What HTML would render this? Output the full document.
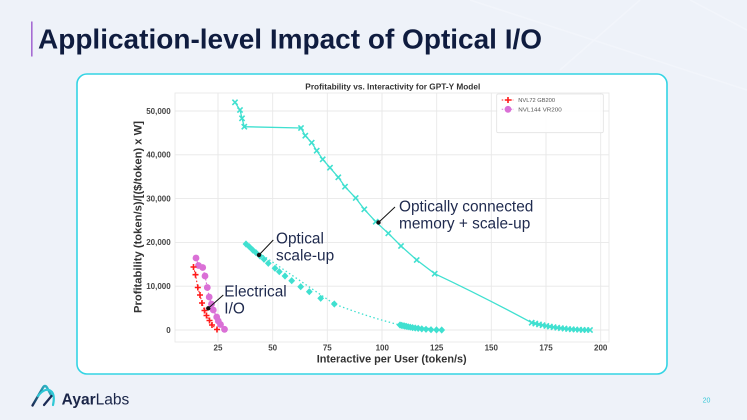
<!DOCTYPE html>
<html><head><meta charset="utf-8"><style>
html,body{margin:0;padding:0;}
body{width:747px;height:420px;overflow:hidden;background:#eef2f9;font-family:"Liberation Sans",Arial,sans-serif;}
svg{position:absolute;left:0;top:0;}
</style></head><body>
<svg width="747" height="420" viewBox="0 0 747 420" xmlns="http://www.w3.org/2000/svg" font-family="Liberation Sans, Arial, sans-serif">
<defs>
<path id="mx" d="M-2.6,-2.6L2.6,2.6M-2.6,2.6L2.6,-2.6" stroke="#40e0d0" stroke-width="1.6" fill="none"/>
<path id="md" d="M0,-3.6L3.4,0L0,3.6L-3.4,0Z" fill="#40e0d0"/>
<path id="mp" d="M-3,0H3M0,-3V3" stroke="#ff1a1a" stroke-width="1.6" fill="none"/>
<circle id="mc" r="3.4" fill="#da70d6"/>
<linearGradient id="lg" x1="0" y1="1" x2="1" y2="0">
<stop offset="0" stop-color="#1b2b55"/><stop offset="1" stop-color="#2ec8d6"/>
</linearGradient>
</defs>
<!-- faint background lines -->
<g stroke="#f4f7fc" stroke-width="1.5" opacity="0.7">
<line x1="470" y1="0" x2="747" y2="90"/>
<line x1="640" y1="0" x2="560" y2="70"/>
<line x1="690" y1="0" x2="747" y2="30"/>
</g>
<!-- title -->
<rect x="31" y="21.5" width="1.6" height="35" fill="#a66cd3"/>
<text x="38" y="48.3" font-size="28" font-weight="bold" fill="#0f1c3f">Application-level Impact of Optical I/O</text>
<!-- chart box -->
<rect x="77" y="74" width="590" height="300" rx="10" ry="10" fill="#ffffff" stroke="#33d4e4" stroke-width="1.6"/>
<!-- plot area frame -->
<rect x="175" y="93" width="434" height="249" fill="#ffffff" stroke="#e6e6e6" stroke-width="0.8"/>
<g stroke="#e8e8e8" stroke-width="0.9">
<line x1="218" y1="93" x2="218" y2="342"/>
<line x1="272.7" y1="93" x2="272.7" y2="342"/>
<line x1="327.3" y1="93" x2="327.3" y2="342"/>
<line x1="382" y1="93" x2="382" y2="342"/>
<line x1="436.7" y1="93" x2="436.7" y2="342"/>
<line x1="491.3" y1="93" x2="491.3" y2="342"/>
<line x1="546" y1="93" x2="546" y2="342"/>
<line x1="600.7" y1="93" x2="600.7" y2="342"/>
<line x1="175" y1="330" x2="609" y2="330"/>
<line x1="175" y1="286.2" x2="609" y2="286.2"/>
<line x1="175" y1="242.4" x2="609" y2="242.4"/>
<line x1="175" y1="198.6" x2="609" y2="198.6"/>
<line x1="175" y1="154.8" x2="609" y2="154.8"/>
<line x1="175" y1="111" x2="609" y2="111"/>
</g>
<!-- chart title -->
<text x="392.8" y="89.4" font-size="8.3" font-weight="bold" fill="#333" text-anchor="middle" textLength="175" lengthAdjust="spacingAndGlyphs">Profitability vs. Interactivity for GPT-Y Model</text>
<!-- y tick labels -->
<g font-size="8" font-weight="bold" fill="#444" text-anchor="end">
<text x="170.7" y="332.8">0</text>
<text x="170.7" y="289">10,000</text>
<text x="170.7" y="245.2">20,000</text>
<text x="170.7" y="201.4">30,000</text>
<text x="170.7" y="157.6">40,000</text>
<text x="170.7" y="113.8">50,000</text>
</g>
<!-- x tick labels -->
<g font-size="8" font-weight="bold" fill="#444" text-anchor="middle">
<text x="218" y="350.5">25</text>
<text x="272.7" y="350.5">50</text>
<text x="327.3" y="350.5">75</text>
<text x="382.3" y="350.5">100</text>
<text x="436.7" y="350.5">125</text>
<text x="491.3" y="350.5">150</text>
<text x="546" y="350.5">175</text>
<text x="600.7" y="350.5">200</text>
</g>
<!-- axis labels -->
<text x="391.7" y="362.5" font-size="11" font-weight="bold" fill="#333" text-anchor="middle" textLength="150" lengthAdjust="spacingAndGlyphs">Interactive per User (token/s)</text>
<text transform="translate(141.5,217) rotate(-90)" font-size="11" font-weight="bold" fill="#333" text-anchor="middle" textLength="192" lengthAdjust="spacingAndGlyphs">Profitability (token/s)/[($/token) x W]</text>

<!-- upper teal series -->
<path d="M235,102.3L240,110L242,118.3L244.3,126.7L301,128L305.3,135.7L311.7,142.7L316.7,150.7L322.7,159.3L330,167.7L338.3,177.3L345,186.7L355.7,198L364.3,209.3L375.7,221.7L388.3,233.3L401,246L416.7,260L434.7,273.7Q482,296 531.7,322.7L535.3,323.6L539,324.4L542.6,325.2L546.3,325.9L549.9,326.6L553.6,327.2L557.2,327.7L560.9,328.2L564.5,328.6L568.1,329L571.8,329.3L575.4,329.5L579.1,329.7L582.7,329.9L586.4,330L590,330" fill="none" stroke="#40e0d0" stroke-width="1.3"/>
<g>
<use href="#mx" x="235" y="102.3"/><use href="#mx" x="240" y="110"/><use href="#mx" x="242" y="118.3"/><use href="#mx" x="244.3" y="126.7"/>
<use href="#mx" x="301" y="128"/><use href="#mx" x="305.3" y="135.7"/><use href="#mx" x="311.7" y="142.7"/><use href="#mx" x="316.7" y="150.7"/>
<use href="#mx" x="322.7" y="159.3"/><use href="#mx" x="330" y="167.7"/><use href="#mx" x="338.3" y="177.3"/><use href="#mx" x="345" y="186.7"/>
<use href="#mx" x="355.7" y="198"/><use href="#mx" x="364.3" y="209.3"/><use href="#mx" x="375.7" y="221.7"/><use href="#mx" x="388.3" y="233.3"/>
<use href="#mx" x="401" y="246"/><use href="#mx" x="416.7" y="260"/><use href="#mx" x="434.7" y="273.7"/>
<use href="#mx" x="531.7" y="322.7"/><use href="#mx" x="535.3" y="323.6"/><use href="#mx" x="539" y="324.4"/><use href="#mx" x="542.6" y="325.2"/>
<use href="#mx" x="546.3" y="325.9"/><use href="#mx" x="549.9" y="326.6"/><use href="#mx" x="553.6" y="327.2"/><use href="#mx" x="557.2" y="327.7"/>
<use href="#mx" x="560.9" y="328.2"/><use href="#mx" x="564.5" y="328.6"/><use href="#mx" x="568.1" y="329"/><use href="#mx" x="571.8" y="329.3"/>
<use href="#mx" x="575.4" y="329.5"/><use href="#mx" x="579.1" y="329.7"/><use href="#mx" x="582.7" y="329.9"/><use href="#mx" x="586.4" y="330"/><use href="#mx" x="590" y="330"/>
</g>

<!-- optical scale-up diamonds -->
<path d="M246,244L334.3,304Q368,317 400,325L441.7,330" fill="none" stroke="#40e0d0" stroke-width="1.3" stroke-dasharray="1.5,2.5"/>
<g>
<use href="#md" x="246" y="244"/><use href="#md" x="249.3" y="246.7"/><use href="#md" x="252.7" y="250"/><use href="#md" x="256" y="252.7"/>
<use href="#md" x="260" y="256"/><use href="#md" x="264" y="259.3"/><use href="#md" x="268.3" y="263.3"/><use href="#md" x="275" y="268.3"/>
<use href="#md" x="279.3" y="271.7"/><use href="#md" x="285" y="276"/><use href="#md" x="291.7" y="280.7"/><use href="#md" x="300.7" y="286.7"/>
<use href="#md" x="309.3" y="291.7"/><use href="#md" x="320.7" y="298.3"/><use href="#md" x="334.3" y="304"/>
<use href="#md" x="400" y="325"/><use href="#md" x="401.5" y="325.4"/><use href="#md" x="403" y="325.7"/><use href="#md" x="404.6" y="326"/>
<use href="#md" x="406.3" y="326.4"/><use href="#md" x="408.2" y="326.8"/><use href="#md" x="410.3" y="327.2"/><use href="#md" x="412.6" y="327.6"/>
<use href="#md" x="415.2" y="328"/><use href="#md" x="418.2" y="328.4"/><use href="#md" x="421.8" y="328.9"/><use href="#md" x="426" y="329.3"/>
<use href="#md" x="431" y="329.7"/><use href="#md" x="436.5" y="329.9"/><use href="#md" x="441.7" y="330"/>
</g>

<!-- NVL144 VR200 orchid -->
<path d="M196,258L198.5,265.5L202.7,267.5L205,276L207.3,287.5L209.2,297L211.5,304L213.3,310L216.7,317L218.3,321L220.5,324.5L224.5,329.3" fill="none" stroke="#da70d6" stroke-width="1.2" stroke-dasharray="1.5,2"/>
<g>
<use href="#mc" x="196" y="258"/><use href="#mc" x="198.5" y="265.5"/><use href="#mc" x="202.7" y="267.5"/><use href="#mc" x="205" y="276"/>
<use href="#mc" x="207.3" y="287.5"/><use href="#mc" x="209.2" y="297"/><use href="#mc" x="211.5" y="304"/><use href="#mc" x="213.3" y="310"/>
<use href="#mc" x="216.7" y="317"/><use href="#mc" x="218.3" y="321"/><use href="#mc" x="220.5" y="324.5"/><use href="#mc" x="224.5" y="329.3"/>
</g>
<!-- NVL72 GB200 red -->
<path d="M193.5,267L195.5,274.7L197.8,287.5L200,295L202,303L204.5,310.5L206.5,315.5L209.5,320.5L212,325L217,329.5" fill="none" stroke="#ff1a1a" stroke-width="1.1" stroke-dasharray="1.5,2"/>
<g>
<use href="#mp" x="193.5" y="267"/><use href="#mp" x="195.5" y="274.7"/><use href="#mp" x="197.8" y="287.5"/><use href="#mp" x="200" y="295"/>
<use href="#mp" x="202" y="303"/><use href="#mp" x="204.5" y="310.5"/><use href="#mp" x="206.5" y="315.5"/><use href="#mp" x="209.5" y="320.5"/>
<use href="#mp" x="212" y="325"/><use href="#mp" x="217" y="329.5"/>
</g>

<!-- legend -->
<rect x="496.7" y="94" width="106.6" height="38.7" fill="#ffffff" fill-opacity="0.85" stroke="#e2e2e2" stroke-width="0.8" rx="1.5"/>
<line x1="501.7" y1="100" x2="514" y2="100" stroke="#ff1a1a" stroke-width="1" stroke-dasharray="1.5,1.5"/>
<use href="#mp" x="508" y="100"/>
<line x1="501.7" y1="109.3" x2="514" y2="109.3" stroke="#da70d6" stroke-width="1" stroke-dasharray="1.5,1.5"/>
<use href="#mc" x="508" y="109.3"/>
<text x="518.3" y="102" font-size="5.7" fill="#555" textLength="36.7" lengthAdjust="spacingAndGlyphs">NVL72 GB200</text>
<text x="518.3" y="111.3" font-size="5.7" fill="#555" textLength="43.4" lengthAdjust="spacingAndGlyphs">NVL144 VR200</text>

<!-- annotations -->
<g stroke="#111" stroke-width="1" fill="none">
<line x1="378.5" y1="222.5" x2="395" y2="207"/>
<line x1="259" y1="255" x2="273.3" y2="240"/>
<line x1="208.3" y1="308.3" x2="223.3" y2="295"/>
</g>
<g fill="#111">
<circle cx="378.5" cy="222.5" r="2.2"/>
<circle cx="259" cy="255" r="2.2"/>
<circle cx="208.3" cy="308.3" r="2.2"/>
</g>
<g font-size="15.4" fill="#1f2a4e">
<text x="399" y="211.7">Optically connected</text>
<text x="399" y="228.5">memory + scale-up</text>
<text x="276" y="243.3">Optical</text>
<text x="276" y="260.3">scale-up</text>
<text x="224.3" y="296.7">Electrical</text>
<text x="224.3" y="313.3">I/O</text>
</g>

<!-- footer logo -->
<path d="M32.5,405.5 L43,387.5 Q45,384.5 47,387.5 L51.5,396" fill="none" stroke="url(#lg)" stroke-width="2.4" stroke-linecap="round"/>
<path d="M38,396 Q46,386 52,392 Q55,396 53,405" fill="none" stroke="#2ec8d6" stroke-width="2.2" stroke-linecap="round"/>
<path d="M44,405 L51.5,396" fill="none" stroke="#1b2b55" stroke-width="2.2" stroke-linecap="round"/>
<text x="61.7" y="404.3" font-size="15.5" fill="#1a2548" textLength="67.6" lengthAdjust="spacingAndGlyphs"><tspan font-weight="bold">Ayar</tspan>Labs</text>
<text x="706.5" y="402.5" font-size="7" fill="#38c8d8" text-anchor="middle">20</text>
</svg>
</body></html>
